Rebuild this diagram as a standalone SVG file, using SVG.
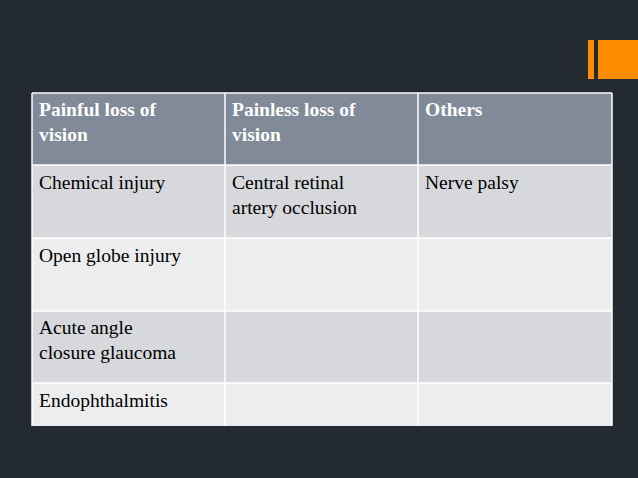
<svg xmlns="http://www.w3.org/2000/svg" width="638" height="478" viewBox="0 0 638 478">
<style>
text{font-family:"Liberation Serif","DejaVu Serif",serif;font-size:19.5px;fill:#000}
.h{fill:#fff;font-weight:bold}
.g{stroke:#fff;stroke-width:1.5}
</style>
<rect width="638" height="478" fill="#242a31"/>
<g id="accent"><rect x="588" y="40" width="6" height="39" fill="#ff8c00"/><rect x="598" y="40" width="40" height="39" fill="#ff8c00"/></g>
<g id="table">
<rect x="32" y="93" width="580" height="72" fill="#818a98"/>
<rect x="32" y="165" width="580" height="73" fill="#d7d8db"/>
<rect x="32" y="238" width="580" height="73" fill="#ecedef"/>
<rect x="32" y="311" width="580" height="72" fill="#d7d8db"/>
<rect x="32" y="383" width="580" height="43" fill="#ecedef"/>
<g class="g"><line x1="32" y1="93" x2="612" y2="93"/><line x1="32" y1="165" x2="612" y2="165"/><line x1="32" y1="238" x2="612" y2="238"/><line x1="32" y1="311" x2="612" y2="311"/><line x1="32" y1="383" x2="612" y2="383"/>
<line x1="225" y1="93" x2="225" y2="426"/><line x1="418" y1="93" x2="418" y2="426"/><line x1="32" y1="93" x2="32" y2="426"/><line x1="612" y1="93" x2="612" y2="426"/></g>
<text class="h" x="39" y="116">Painful loss of</text><text class="h" x="39" y="141">vision</text>
<text class="h" x="232" y="116">Painless loss of</text><text class="h" x="232" y="141">vision</text>
<text class="h" x="425" y="116">Others</text>
<text x="39" y="189">Chemical injury</text>
<text x="232" y="189">Central retinal</text><text x="232" y="214">artery occlusion</text>
<text x="425" y="189">Nerve palsy</text>
<text x="39" y="262">Open globe injury</text>
<text x="39" y="334">Acute angle</text><text x="39" y="359">closure glaucoma</text>
<text x="39" y="407">Endophthalmitis</text>
</g>
</svg>
